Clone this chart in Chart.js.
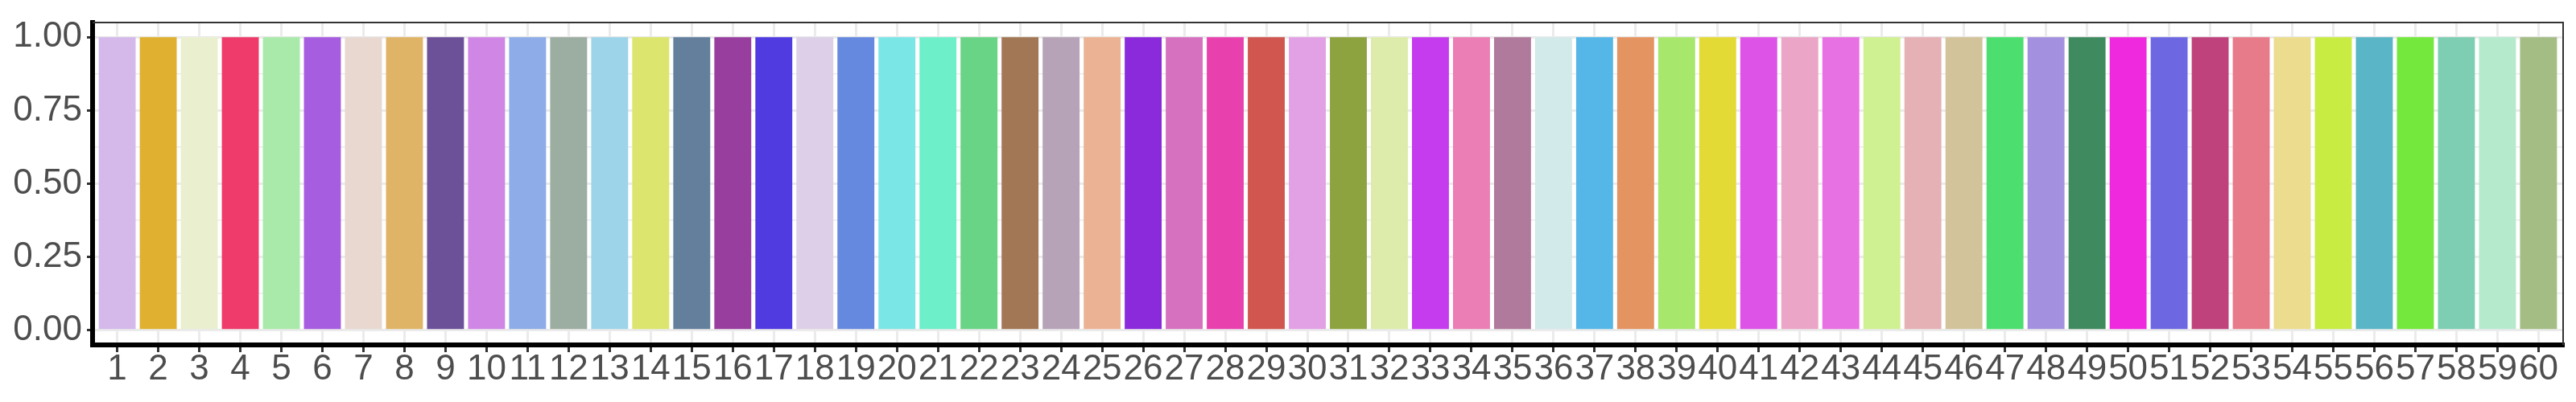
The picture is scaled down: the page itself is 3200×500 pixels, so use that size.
<!DOCTYPE html>
<html>
<head>
<meta charset="utf-8">
<script src="https://cdn.jsdelivr.net/npm/chart.js@4.4.1/dist/chart.umd.min.js"></script>
<style>
  html, body { margin: 0; padding: 0; background: #ffffff; }
  #grafica { display: block; }
</style>
</head>
<body>
<canvas id="grafica" width="3200" height="500"></canvas>
<script>
const categorias = [
  '1', '2', '3', '4', '5', '6', '7', '8', '9', '10',
  '11', '12', '13', '14', '15', '16', '17', '18', '19', '20',
  '21', '22', '23', '24', '25', '26', '27', '28', '29', '30',
  '31', '32', '33', '34', '35', '36', '37', '38', '39', '40',
  '41', '42', '43', '44', '45', '46', '47', '48', '49', '50',
  '51', '52', '53', '54', '55', '56', '57', '58', '59', '60'
];

const valores = [
  1, 1, 1, 1, 1, 1, 1, 1, 1, 1,
  1, 1, 1, 1, 1, 1, 1, 1, 1, 1,
  1, 1, 1, 1, 1, 1, 1, 1, 1, 1,
  1, 1, 1, 1, 1, 1, 1, 1, 1, 1,
  1, 1, 1, 1, 1, 1, 1, 1, 1, 1,
  1, 1, 1, 1, 1, 1, 1, 1, 1, 1
];

const marcasY = [0, 0.25, 0.5, 0.75, 1];
const etiquetasY = ['0.00', '0.25', '0.50', '0.75', '1.00'];
const marcasMenoresY = [0.125, 0.375, 0.625, 0.875];

const colores = [
  '#D4B9EA', '#E0B030', '#EAF0CF', '#EF3B6B', '#A9EAAB', '#A65DE0', '#E8D8D0', '#E0B466', '#6C5199', '#CF86E4',
  '#8DACE8', '#9CADA1', '#9ED4EA', '#DCE56E', '#637F9C', '#983E9F', '#4F3BE0', '#DDCFE8', '#6689E0', '#7BE6E6',
  '#6DF0C9', '#6AD486', '#A27755', '#B7A3B7', '#ECB294', '#8A2ADB', '#D671C0', '#E841AE', '#D15650', '#E3A1E5',
  '#8DA33F', '#DDECAA', '#C53BEE', '#EB7EB4', '#AF7A9B', '#D3EAEB', '#55B7E7', '#E49461', '#A7E86C', '#E4DA35',
  '#DD52E7', '#EBA5C6', '#E770E2', '#CFF191', '#E5B1B5', '#D2C39A', '#4CDF70', '#A391E0', '#3F8A5E', '#EF29DD',
  '#6D68E2', '#C0427C', '#E87B89', '#ECDC8D', '#C8EC41', '#5AB6C6', '#74E83D', '#7DCEB2', '#B5EACD', '#A3BD85'
];

const fuente = { family: "'Liberation Sans', Arial, sans-serif", size: 44, lineHeight: 1 };

// borde fino arriba y a la derecha del panel
const bordePanel = {
  id: 'bordePanel',
  afterDraw(chart) {
    const { ctx, chartArea } = chart;
    ctx.save();
    ctx.strokeStyle = '#333333';
    ctx.lineWidth = 2;
    ctx.beginPath();
    ctx.moveTo(chartArea.left, chartArea.top);
    ctx.lineTo(chartArea.right, chartArea.top);
    ctx.lineTo(chartArea.right, chartArea.bottom);
    ctx.stroke();
    ctx.restore();
  }
};

new Chart(document.getElementById('grafica'), {
  type: 'bar',
  data: {
    datasets: [{
      data: valores.map((v, i) => ({ x: i + 1, y: v })),
      backgroundColor: colores,
      borderWidth: 0,
      categoryPercentage: 1,
      barPercentage: 0.9,
    }],
  },
  plugins: [bordePanel],
  options: {
    responsive: false,
    devicePixelRatio: 1,
    animation: false,
    layout: { padding: { top: 16, right: 16, left: 0, bottom: 0 } },
    plugins: { legend: { display: false }, tooltip: { enabled: false } },
    scales: {
      x: {
        type: 'linear',
        offset: false,
        min: 0.4,
        max: 60.6,
        afterBuildTicks: s => { s.ticks = categorias.map((c, i) => ({ value: i + 1 })); },
        afterFit: s => { s.height = 71; },
        grid: { offset: false, color: '#EBEBEB', lineWidth: 3, tickColor: '#333333', tickWidth: 3, tickLength: 9 },
        border: { color: '#000000', width: 6 },
        ticks: {
          autoSkip: false, maxRotation: 0, minRotation: 0, padding: 0,
          color: '#4D4D4D', font: fuente,
          callback: (v, i) => categorias[i],
        },
      },
      y: {
        min: -0.05,
        max: 1.05,
        afterBuildTicks: s => { s.ticks = marcasY.map(v => ({ value: v })); },
        afterFit: s => { s.width = 115; },
        grid: { color: '#EBEBEB', lineWidth: 3, tickColor: '#333333', tickWidth: 3, tickLength: 7 },
        border: { color: '#000000', width: 6 },
        ticks: { padding: 6, color: '#4D4D4D', font: fuente, callback: (v, i) => etiquetasY[i] },
      },
      yMenor: {
        position: 'left',
        min: -0.05,
        max: 1.05,
        afterBuildTicks: s => { s.ticks = marcasMenoresY.map(v => ({ value: v })); },
        afterFit: s => { s.width = 0; },
        grid: { color: '#EBEBEB', lineWidth: 1.5, drawTicks: false },
        border: { display: false },
        ticks: { display: false },
      },
    },
  },
});
</script>
</body>
</html>
